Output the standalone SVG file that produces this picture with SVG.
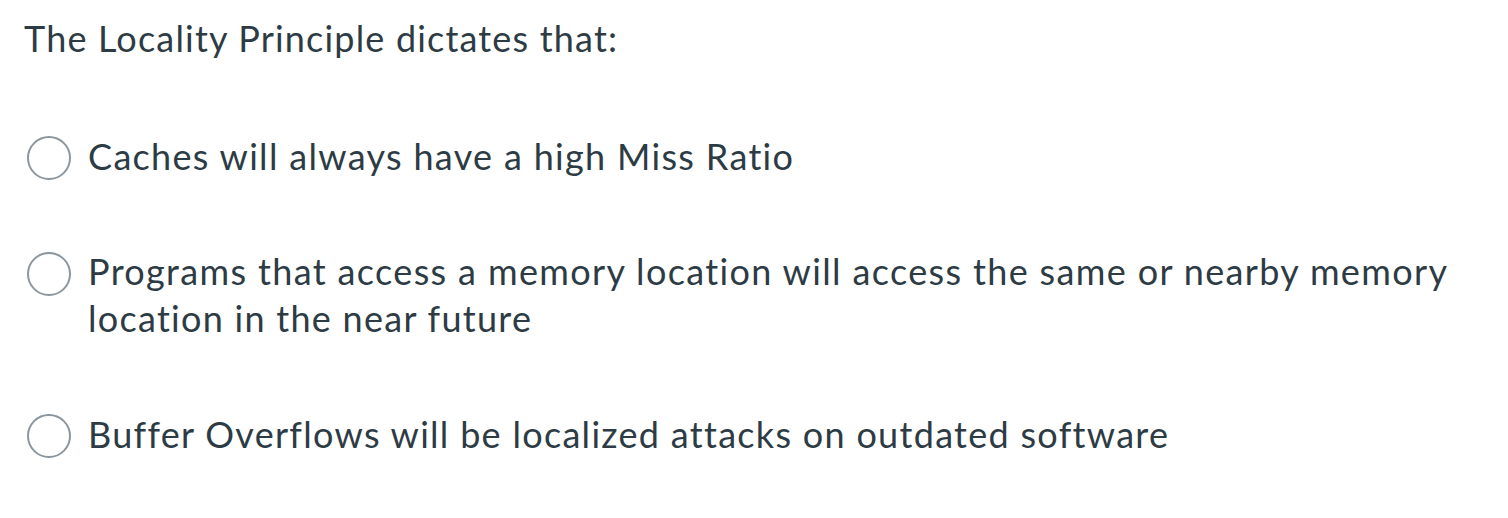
<svg xmlns="http://www.w3.org/2000/svg" width="1508" height="518" viewBox="0 0 1508 518">
<style>
text{font-family:Lato,"Liberation Sans",sans-serif;fill:#2d3b45;font-size:36px;font-variant-ligatures:none}
.r{fill:#fff;stroke:#8b969e;stroke-width:2}
</style>
<rect width="1508" height="518" fill="#fff"/>
<g id="title"><text x="24" y="52" textLength="593">The Locality Principle dictates that:</text></g>
<g id="opt1"><circle class="r" cx="49" cy="158" r="21"/><text x="88" y="170" textLength="705">Caches will always have a high Miss Ratio</text></g>
<g id="opt2"><circle class="r" cx="49" cy="274" r="21"/><text x="88" y="285" textLength="1359">Programs that access a memory location will access the same or nearby memory</text><text x="88" y="332" textLength="443">location in the near future</text></g>
<g id="opt3"><circle class="r" cx="49" cy="436" r="21"/><text x="88" y="448" textLength="1080">Buffer Overflows will be localized attacks on outdated software</text></g>
</svg>
